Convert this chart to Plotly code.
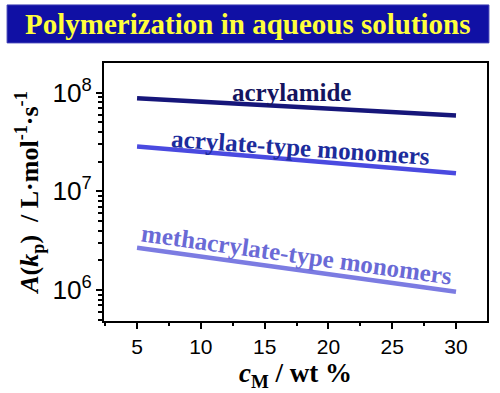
import plotly.graph_objects as go

# Data
conc = [5, 30]
acrylamide = [8.77e7, 5.85e7]
acrylate = [2.84e7, 1.52e7]
methacrylate = [2.68e6, 9.6e5]

series_names = ["acrylamide", "acrylate-type monomers", "methacrylate-type monomers"]
series_values = [acrylamide, acrylate, methacrylate]
line_colors = ["#16167a", "#4a4ae0", "#7c7ce2"]
label_colors = ["#14145e", "#1c2c9c", "#6a6ad6"]
label_pos = [(17.1, 8.006, 0), (17.8, 7.439, 4), (17.5, 6.36, 8)]

x_tickvals = [5, 10, 15, 20, 25, 30]

SERIF = "Liberation Serif, Times New Roman, serif"
SANS = "Liberation Sans, Arial, sans-serif"

fig = go.Figure()
for name, vals, col in zip(series_names, series_values, line_colors):
    fig.add_trace(go.Scatter(x=conc, y=vals, mode="lines", name=name,
                             line=dict(color=col, width=4.5), showlegend=False))

annotations = []
for name, col, (ax, ay, ang) in zip(series_names, label_colors, label_pos):
    annotations.append(dict(x=ax, y=ay, xref="x", yref="y", text="<b>" + name + "</b>",
                            showarrow=False, textangle=ang,
                            font=dict(family=SERIF, size=25, color=col)))

# banner title
fig.add_shape(type="rect", xref="paper", yref="paper", x0=-0.253, x1=1.005, y0=1.078, y1=1.225,
              fillcolor="#1010a4", line=dict(color="#3c3cb4", width=1), layer="above")
annotations.append(dict(x=(-0.253 + 1.005) / 2, y=(1.078 + 1.225) / 2, xref="paper", yref="paper",
                        text="<b>Polymerization in aqueous solutions</b>", showarrow=False,
                        xanchor="center", yanchor="middle",
                        font=dict(family=SERIF, size=29, color="#ffff3c")))

fig.update_layout(
    width=500, height=393,
    margin=dict(l=104, r=13, t=63, b=72),
    paper_bgcolor="white", plot_bgcolor="white",
    annotations=annotations,
    xaxis=dict(range=[2.41, 32.43], tickvals=x_tickvals, ticks="outside", ticklen=6, tickwidth=1.5,
               tickcolor="black", showline=True, linecolor="black", linewidth=2, mirror=True,
               showgrid=False, zeroline=False,
               tickfont=dict(family=SANS, size=21, color="black"),
               minor=dict(ticks="outside", ticklen=3, tickwidth=1.5, tickcolor="black", dtick=2.5,
                          tick0=0, showgrid=False),
               title=dict(text="<b><i>c</i><sub>M</sub> / wt %</b>", standoff=4,
                          font=dict(family=SERIF, size=27, color="black"))),
    yaxis=dict(type="log", range=[5.686, 8.30], dtick=1, exponentformat="power",
               ticks="outside", ticklen=6, tickwidth=1.5, tickcolor="black",
               showline=True, linecolor="black", linewidth=2, mirror=True,
               showgrid=False, zeroline=False,
               tickfont=dict(family=SANS, size=21, color="black"),
               minor=dict(ticks="outside", ticklen=4, tickwidth=1.5, tickcolor="black", dtick="D1",
                          showgrid=False),
               title=dict(text="<b><i>A</i>(<i>k</i><sub>p</sub>)  / L·mol<sup>-1</sup>·s<sup>-1</sup></b>",
                          standoff=6, font=dict(family=SERIF, size=26, color="black"))),
)

fig.write_html("out.html")
